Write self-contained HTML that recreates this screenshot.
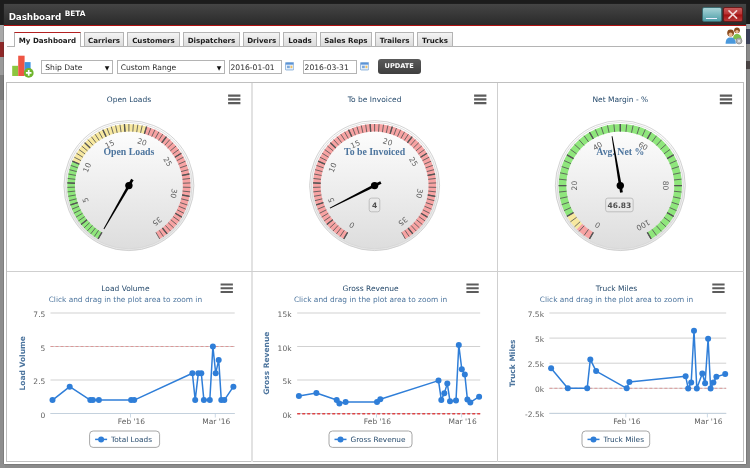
<!DOCTYPE html>
<html><head><meta charset="utf-8"><title>Dashboard</title>
<style>
html,body{margin:0;padding:0}
body{width:750px;height:468px;overflow:hidden;position:relative;background:#8a8a8a;font-family:"DejaVu Sans","Liberation Sans",sans-serif}
.bgtop{position:absolute;left:0;top:0;width:750px;height:30px;background:#1c1c1c}
.bgl1{position:absolute;left:0;top:25px;width:5px;height:17px;background:#a8a8a8}
.bgl2{position:absolute;left:0;top:41.5px;width:5px;height:15.5px;background:#8e2828}
.bgl3{position:absolute;left:0;top:57px;width:5px;height:411px;background:linear-gradient(#9a9a9a 0,#9a9a9a 18px,#7d7d7d 18px,#7d7d7d 43px,#8e8e8e 43px)}
.bgr{position:absolute;left:745px;top:24px;width:5px;height:444px;background:linear-gradient(#9aa2a8 0,#9aa2a8 5px,#3a4058 5px,#3a4058 20px,#8a8a8a 20px,#8a8a8a 37px,#4a4444 37px,#4a4444 45px,#8a8a8a 45px)}
.win{position:absolute;left:3.5px;top:3.5px;width:742.2px;height:460.5px;background:#fff;box-shadow:0 0 1px #333}
.tbar{position:absolute;left:0;top:0;width:100%;height:21px;background:linear-gradient(#454545,#2a2a2a);border-bottom:1.3px solid #b01010}
.ttl{position:absolute;left:5.2px;top:8.6px;color:#fff;font:bold 8.8px "DejaVu Sans","Liberation Sans",sans-serif;letter-spacing:-0.12px;white-space:nowrap;text-shadow:0 0 1px #000}
.ttl sup{font-size:7.4px;position:relative;top:0;left:3.4px;vertical-align:3.7px;line-height:0;letter-spacing:0}
.btn{position:absolute;top:3.8px;height:13px;border-radius:2px}
.bmin{left:698.2px;width:18px;background:linear-gradient(#a9d4d8,#4f9fa8);border:0.5px solid #3c6b70}
.bmin:after{content:"";position:absolute;left:3.8px;top:9.4px;width:10.6px;height:1.5px;background:#eef}
.bcls{left:719.4px;width:18px;background:linear-gradient(#c85a5a 0%,#b83030 48%,#a01010 52%,#b83a3a 100%);border:0.5px solid #6a1a1a}
.tabline{position:absolute;left:3px;top:42.4px;width:737px;height:0.9px;background:#b4b4b4}
.tab{position:absolute;top:28.9px;height:13.6px;box-sizing:border-box;border:0.8px solid #b4b4b4;border-bottom:none;background:linear-gradient(#f4f4f4,#dcdcdc);font:bold 7.1px "DejaVu Sans","Liberation Sans",sans-serif;color:#1a1a1a;text-align:center;line-height:15px;white-space:nowrap}
.tab.act{top:28.2px;height:15.2px;background:#fff;border:0.8px solid #b4b4b4;border-top:1.6px solid #b32020;border-bottom:none;line-height:15.4px}
.sel{position:absolute;top:56.7px;height:13.4px;box-sizing:border-box;border:0.8px solid #b4b4b4;background:#fff;font:7.6px "DejaVu Sans","Liberation Sans",sans-serif;color:#2a2a2a;line-height:13.2px;padding-left:3px;white-space:nowrap}
.sel i{position:absolute;right:3px;top:0;font-style:normal;font-size:6px;color:#111}
.upd{position:absolute;left:374.2px;top:55.8px;width:43px;height:14.8px;border-radius:3px;background:linear-gradient(#5a5a5a,#3f3f3f);color:#fff;font:bold 6.6px "DejaVu Sans","Liberation Sans",sans-serif;text-align:center;line-height:14.8px}
.panels{position:absolute;left:2.4px;top:78.2px;width:738.2px;height:380.2px;border:0.9px solid #c0c0c0;box-sizing:border-box}
.vd1{position:absolute;left:247.6px;top:79px;width:1.8px;height:379px;background:#e2e2e2}
.vd2{position:absolute;left:493.6px;top:79px;width:1px;height:379px;background:#cfcfcf}
.hd{position:absolute;left:3px;top:267.3px;width:737px;height:0.9px;background:#cfcfcf}
svg{position:absolute;left:0;top:0}
svg text{font-family:"DejaVu Sans","Liberation Sans",sans-serif}
.ct{font-size:7.5px;fill:#274b6d}
.cs{font-size:7.4px;fill:#4d759e}
.al{font-size:7.5px;fill:#606060}
.yt{font-size:7.5px;font-weight:bold;fill:#4d759e}
.lg{font-size:7.35px;fill:#274b6d}
.gl{font-size:7.5px;fill:#606060}
.gt{font-family:"Liberation Serif",serif !important;font-weight:bold;font-size:9.8px;fill:#4d759e}
.dl{font-size:7.5px;font-weight:bold;fill:#505050}
</style></head><body>
<div class="bgtop"></div><div class="bgl1"></div><div class="bgl2"></div><div class="bgl3"></div><div class="bgr"></div>
<div class="win">
<div class="tbar"><div class="ttl">Dashboard<sup>BETA</sup></div>
<div class="btn bmin"></div><div class="btn bcls"><svg width="19" height="14" viewBox="0 0 19 14" style="position:absolute;left:0;top:0"><path d="M5 2.9L12.6 10.2M12.6 2.9L5 10.2" stroke="#f0d4d4" stroke-width="1.6" stroke-linecap="round"/></svg></div></div>
<div class="tabline"></div>
<div class="tab act" style="left:10.5px;width:67px">My Dashboard</div><div class="tab" style="left:80.5px;width:40px">Carriers</div><div class="tab" style="left:123.5px;width:53px">Customers</div><div class="tab" style="left:179.5px;width:57px">Dispatchers</div><div class="tab" style="left:239.8px;width:36.7px">Drivers</div><div class="tab" style="left:279.8px;width:33.4px">Loads</div><div class="tab" style="left:316.5px;width:51.7px">Sales Reps</div><div class="tab" style="left:371.5px;width:39px">Trailers</div><div class="tab" style="left:413.8px;width:35.4px">Trucks</div>
<svg width="20" height="20" viewBox="0 0 20 20" style="left:721px;top:23.8px"><circle cx="12" cy="3.3" r="2.9" fill="#8a4a1c"/><circle cx="12" cy="4.6" r="1.7" fill="#e8b890"/><path d="M8 12.5C8 8.5 9.5 7 12 7S16.5 8.5 16.5 12.5Z" fill="#7cc04a"/><circle cx="5.6" cy="6" r="3.4" fill="#8a4a1c"/><circle cx="5.6" cy="7.6" r="2" fill="#e8b890"/><path d="M0.6 16.8C0.6 12.4 2.4 10.6 5.6 10.6S10.8 12.4 10.8 16.8Z" fill="#4a98dc"/><circle cx="14" cy="14" r="3" fill="#b8b8b8" stroke="#8a8a8a" stroke-width="0.8"/><circle cx="14" cy="14" r="1" fill="#eee"/></svg>
<svg width="26" height="24" viewBox="0 0 26 24" style="left:7px;top:51px"><rect x="1.2" y="10.8" width="5.8" height="10.2" fill="#8cc63f"/><rect x="7.2" y="0.7" width="6.4" height="20.3" fill="#ee5544"/><rect x="13.6" y="7.1" width="6" height="9" fill="#3d95e0"/><circle cx="17.7" cy="17.9" r="4.9" fill="#6fb52c"/><path d="M14.9 17.9h5.6M17.7 15.1v5.6" stroke="#fff" stroke-width="1.7"/></svg>
<div class="sel" style="left:37.8px;width:72px">Ship Date<i>&#9660;</i></div>
<div class="sel" style="left:113.2px;width:108.6px">Custom Range<i>&#9660;</i></div>
<div class="sel" style="left:225.2px;width:53.6px;padding-left:0.8px">2016-01-01</div>
<div class="sel" style="left:299.2px;width:54.6px;padding-left:0.9px">2016-03-31</div>
<svg width="9.2" height="8.4" viewBox="0 0 10 9" style="left:281.6px;top:58.7px"><rect x="0.4" y="0.4" width="9.2" height="8.2" rx="1" fill="#e8f1fb" stroke="#6a9bd0" stroke-width="0.8"/><rect x="0.8" y="0.8" width="8.4" height="2" fill="#5a93d6"/><rect x="2.2" y="4" width="3" height="2.6" fill="#7aa8dc"/><rect x="6" y="4" width="2" height="2.6" fill="#f0c060"/></svg>
<svg width="9.2" height="8.4" viewBox="0 0 10 9" style="left:356.4px;top:58.7px"><rect x="0.4" y="0.4" width="9.2" height="8.2" rx="1" fill="#e8f1fb" stroke="#6a9bd0" stroke-width="0.8"/><rect x="0.8" y="0.8" width="8.4" height="2" fill="#5a93d6"/><rect x="2.2" y="4" width="3" height="2.6" fill="#7aa8dc"/><rect x="6" y="4" width="2" height="2.6" fill="#f0c060"/></svg>
<div class="upd">UPDATE</div>
<div class="panels"></div><div class="vd1"></div><div class="vd2"></div><div class="hd"></div>
</div>
<svg width="750" height="468" viewBox="0 0 750 468">
<defs>
<linearGradient id="facegrad" x1="0" y1="0" x2="0" y2="1"><stop offset="0" stop-color="#ffffff"/><stop offset="1" stop-color="#dddddd"/></linearGradient>
<linearGradient id="ringgrad" x1="0" y1="0" x2="0" y2="1"><stop offset="0" stop-color="#ffffff"/><stop offset="1" stop-color="#e6e6e6"/></linearGradient>
</defs>
<text x="128.9" y="102" text-anchor="middle" class="ct">Open Loads</text>
<text x="374.6" y="102" text-anchor="middle" class="ct">To be Invoiced</text>
<text x="620.3" y="102" text-anchor="middle" class="ct">Net Margin - %</text>
<circle cx="128.9" cy="185.6" r="65" fill="url(#ringgrad)" stroke="#c9c9c9" stroke-width="0.8"/>
<circle cx="128.9" cy="185.6" r="63.2" fill="url(#facegrad)" stroke="#d4d4d4" stroke-width="0.7"/>
<path d="M98.1 238.95A61.6 61.6 0 0 1 72.34 161.2L79.32 164.21A54 54 0 0 0 101.9 232.37Z" fill="#8fe67c"/>
<path d="M72.34 161.2A61.6 61.6 0 0 1 146.57 126.59L144.39 133.87A54 54 0 0 0 79.32 164.21Z" fill="#f7e8a0"/>
<path d="M146.57 126.59A61.6 61.6 0 0 1 159.7 238.95L155.9 232.37A54 54 0 0 0 144.39 133.87Z" fill="#f7a3a3"/>
<path d="M98.1 238.95L101.9 232.37M94.31 236.57L98.57 230.28M90.69 233.92L95.41 227.96M87.28 231.02L92.42 225.41M84.09 227.87L89.62 222.66M81.14 224.51L87.03 219.71M78.44 220.93L84.67 216.57M76.01 217.17L82.53 213.28M73.85 213.25L80.64 209.84M71.99 209.17L79.01 206.26M70.43 204.98L77.64 202.59M69.17 200.68L76.54 198.82M68.24 196.3L75.72 194.98M67.62 191.86L75.18 191.09M67.33 187.39L74.92 187.17M67.36 182.91L74.95 183.24M67.72 178.45L75.27 179.33M68.4 174.02L75.86 175.45M69.4 169.66L76.74 171.62M70.71 165.38L77.89 167.87M72.34 161.2L79.32 164.21M74.26 157.16L81 160.67M76.47 153.26L82.94 157.25M78.96 149.54L85.12 153.99M81.71 146L87.53 150.89M84.71 142.68L90.16 147.98M87.95 139.58L93 145.26M91.4 136.73L96.03 142.76M95.05 134.13L99.23 140.48M98.88 131.81L102.58 138.45M102.87 129.77L106.08 136.66M106.99 128.03L109.69 135.13M111.23 126.59L113.41 133.87M115.57 125.46L117.21 132.88M119.97 124.65L121.07 132.17M124.42 124.16L124.98 131.74M128.9 124L128.9 131.6M133.38 124.16L132.82 131.74M137.83 124.65L136.73 132.17M142.23 125.46L140.59 132.88M146.57 126.59L144.39 133.87M150.81 128.03L148.11 135.13M154.93 129.77L151.72 136.66M158.92 131.81L155.22 138.45M162.75 134.13L158.57 140.48M166.4 136.73L161.77 142.76M169.85 139.58L164.8 145.26M173.09 142.68L167.64 147.98M176.09 146L170.27 150.89M178.84 149.54L172.68 153.99M181.33 153.26L174.86 157.25M183.54 157.16L176.8 160.67M185.46 161.2L178.48 164.21M187.09 165.38L179.91 167.87M188.4 169.66L181.06 171.62M189.4 174.02L181.94 175.45M190.08 178.45L182.53 179.33M190.44 182.91L182.85 183.24M190.47 187.39L182.88 187.17M190.18 191.86L182.62 191.09M189.56 196.3L182.08 194.98M188.63 200.68L181.26 198.82M187.37 204.98L180.16 202.59M185.81 209.17L178.79 206.26M183.95 213.25L177.16 209.84M181.79 217.17L175.27 213.28M179.36 220.93L173.13 216.57M176.66 224.51L170.77 219.71M173.71 227.87L168.18 222.66M170.52 231.02L165.38 225.41M167.11 233.92L162.39 227.96M163.49 236.57L159.23 230.28M159.7 238.95L155.9 232.37" stroke="#555" stroke-width="0.85" fill="none"/>
<path d="M98.1 238.95L101.9 232.37M81.14 224.51L87.03 219.71M70.43 204.98L77.64 202.59M67.36 182.91L74.95 183.24M72.34 161.2L79.32 164.21M84.71 142.68L90.16 147.98M102.87 129.77L106.08 136.66M124.42 124.16L124.98 131.74M146.57 126.59L144.39 133.87M166.4 136.73L161.77 142.76M181.33 153.26L174.86 157.25M189.4 174.02L181.94 175.45M189.56 196.3L182.08 194.98M181.79 217.17L175.27 213.28M167.11 233.92L162.39 227.96" stroke="#555" stroke-width="1.35" fill="none"/>
<text x="85.52" y="199.97" transform="rotate(-108.33 85.52 199.97)" text-anchor="middle" dy="2.7" class="gl">5</text>
<text x="86.94" y="167.5" transform="rotate(-66.67 86.94 167.5)" text-anchor="middle" dy="2.7" class="gl">10</text>
<text x="109.59" y="144.18" transform="rotate(-25 109.59 144.18)" text-anchor="middle" dy="2.7" class="gl">15</text>
<text x="142.01" y="141.82" transform="rotate(16.67 142.01 141.82)" text-anchor="middle" dy="2.7" class="gl">20</text>
<text x="167.8" y="161.61" transform="rotate(58.33 167.8 161.61)" text-anchor="middle" dy="2.7" class="gl">25</text>
<text x="173.91" y="193.54" transform="rotate(100 173.91 193.54)" text-anchor="middle" dy="2.7" class="gl">30</text>
<text x="157.24" y="221.45" transform="rotate(141.67 157.24 221.45)" text-anchor="middle" dy="2.7" class="gl">35</text>
<text x="128.9" y="155.4" text-anchor="middle" class="gt">Open Loads</text>
<g transform="translate(128.9 185.6) rotate(-150)"><path d="M-1.4 7L-1.4 0L-0.45 -50L0.45 -50L1.4 0L1.4 7Z" fill="#000"/></g>
<circle cx="128.9" cy="185.6" r="3.7" fill="#000"/>
<circle cx="374.6" cy="185.6" r="65" fill="url(#ringgrad)" stroke="#c9c9c9" stroke-width="0.8"/>
<circle cx="374.6" cy="185.6" r="63.2" fill="url(#facegrad)" stroke="#d4d4d4" stroke-width="0.7"/>
<path d="M343.8 238.95A61.6 61.6 0 1 1 405.4 238.95L401.6 232.37A54 54 0 1 0 347.6 232.37Z" fill="#f7a3a3"/>
<path d="M343.8 238.95L347.6 232.37M340.01 236.57L344.27 230.28M336.39 233.92L341.11 227.96M332.98 231.02L338.12 225.41M329.79 227.87L335.32 222.66M326.84 224.51L332.73 219.71M324.14 220.93L330.37 216.57M321.71 217.17L328.23 213.28M319.55 213.25L326.34 209.84M317.69 209.17L324.71 206.26M316.13 204.98L323.34 202.59M314.87 200.68L322.24 198.82M313.94 196.3L321.42 194.98M313.32 191.86L320.88 191.09M313.03 187.39L320.62 187.17M313.06 182.91L320.65 183.24M313.42 178.45L320.97 179.33M314.1 174.02L321.56 175.45M315.1 169.66L322.44 171.62M316.41 165.38L323.59 167.87M318.04 161.2L325.02 164.21M319.96 157.16L326.7 160.67M322.17 153.26L328.64 157.25M324.66 149.54L330.82 153.99M327.41 146L333.23 150.89M330.41 142.68L335.86 147.98M333.65 139.58L338.7 145.26M337.1 136.73L341.73 142.76M340.75 134.13L344.93 140.48M344.58 131.81L348.28 138.45M348.57 129.77L351.78 136.66M352.69 128.03L355.39 135.13M356.93 126.59L359.11 133.87M361.27 125.46L362.91 132.88M365.67 124.65L366.77 132.17M370.12 124.16L370.68 131.74M374.6 124L374.6 131.6M379.08 124.16L378.52 131.74M383.53 124.65L382.43 132.17M387.93 125.46L386.29 132.88M392.27 126.59L390.09 133.87M396.51 128.03L393.81 135.13M400.63 129.77L397.42 136.66M404.62 131.81L400.92 138.45M408.45 134.13L404.27 140.48M412.1 136.73L407.47 142.76M415.55 139.58L410.5 145.26M418.79 142.68L413.34 147.98M421.79 146L415.97 150.89M424.54 149.54L418.38 153.99M427.03 153.26L420.56 157.25M429.24 157.16L422.5 160.67M431.16 161.2L424.18 164.21M432.79 165.38L425.61 167.87M434.1 169.66L426.76 171.62M435.1 174.02L427.64 175.45M435.78 178.45L428.23 179.33M436.14 182.91L428.55 183.24M436.17 187.39L428.58 187.17M435.88 191.86L428.32 191.09M435.26 196.3L427.78 194.98M434.33 200.68L426.96 198.82M433.07 204.98L425.86 202.59M431.51 209.17L424.49 206.26M429.65 213.25L422.86 209.84M427.49 217.17L420.97 213.28M425.06 220.93L418.83 216.57M422.36 224.51L416.47 219.71M419.41 227.87L413.88 222.66M416.22 231.02L411.08 225.41M412.81 233.92L408.09 227.96M409.19 236.57L404.93 230.28M405.4 238.95L401.6 232.37" stroke="#555" stroke-width="0.85" fill="none"/>
<path d="M343.8 238.95L347.6 232.37M326.84 224.51L332.73 219.71M316.13 204.98L323.34 202.59M313.06 182.91L320.65 183.24M318.04 161.2L325.02 164.21M330.41 142.68L335.86 147.98M348.57 129.77L351.78 136.66M370.12 124.16L370.68 131.74M392.27 126.59L390.09 133.87M412.1 136.73L407.47 142.76M427.03 153.26L420.56 157.25M435.1 174.02L427.64 175.45M435.26 196.3L427.78 194.98M427.49 217.17L420.97 213.28M412.81 233.92L408.09 227.96" stroke="#555" stroke-width="1.35" fill="none"/>
<text x="351.75" y="225.18" transform="rotate(-150 351.75 225.18)" text-anchor="middle" dy="2.7" class="gl">0</text>
<text x="331.22" y="199.97" transform="rotate(-108.33 331.22 199.97)" text-anchor="middle" dy="2.7" class="gl">5</text>
<text x="332.64" y="167.5" transform="rotate(-66.67 332.64 167.5)" text-anchor="middle" dy="2.7" class="gl">10</text>
<text x="355.29" y="144.18" transform="rotate(-25 355.29 144.18)" text-anchor="middle" dy="2.7" class="gl">15</text>
<text x="387.71" y="141.82" transform="rotate(16.67 387.71 141.82)" text-anchor="middle" dy="2.7" class="gl">20</text>
<text x="413.5" y="161.61" transform="rotate(58.33 413.5 161.61)" text-anchor="middle" dy="2.7" class="gl">25</text>
<text x="419.61" y="193.54" transform="rotate(100 419.61 193.54)" text-anchor="middle" dy="2.7" class="gl">30</text>
<text x="402.94" y="221.45" transform="rotate(141.67 402.94 221.45)" text-anchor="middle" dy="2.7" class="gl">35</text>
<text x="374.6" y="155.4" text-anchor="middle" class="gt">To be Invoiced</text>
<rect x="369.2" y="198.1" width="10.6" height="13.7" rx="2.2" fill="none" stroke="#b4b4b4" stroke-width="0.8"/>
<text x="374.5" y="207.9" text-anchor="middle" class="dl">4</text>
<g transform="translate(374.6 185.6) rotate(-116.67)"><path d="M-1.4 7L-1.4 0L-0.45 -50L0.45 -50L1.4 0L1.4 7Z" fill="#000"/></g>
<circle cx="374.6" cy="185.6" r="3.7" fill="#000"/>
<circle cx="620.3" cy="185.6" r="65" fill="url(#ringgrad)" stroke="#c9c9c9" stroke-width="0.8"/>
<circle cx="620.3" cy="185.6" r="63.2" fill="url(#facegrad)" stroke="#d4d4d4" stroke-width="0.7"/>
<path d="M589.5 238.95A61.6 61.6 0 0 1 576.74 229.16L582.12 223.78A54 54 0 0 0 593.3 232.37Z" fill="#f7a3a3"/>
<path d="M576.74 229.16A61.6 61.6 0 0 1 566.95 216.4L573.53 212.6A54 54 0 0 0 582.12 223.78Z" fill="#f7e8a0"/>
<path d="M566.95 216.4A61.6 61.6 0 1 1 651.1 238.95L647.3 232.37A54 54 0 1 0 573.53 212.6Z" fill="#8fe67c"/>
<path d="M589.5 238.95L593.3 232.37M584.09 235.44L588.56 229.29M579.08 231.38L584.17 225.73M574.52 226.82L580.17 221.73M570.46 221.81L576.61 217.34M566.95 216.4L573.53 212.6M564.03 210.65L570.97 207.56M561.71 204.64L568.94 202.29M560.05 198.41L567.48 196.83M559.04 192.04L566.6 191.24M558.7 185.6L566.3 185.6M559.04 179.16L566.6 179.96M560.05 172.79L567.48 174.37M561.71 166.56L568.94 168.91M564.03 160.55L570.97 163.64M566.95 154.8L573.53 158.6M570.46 149.39L576.61 153.86M574.52 144.38L580.17 149.47M579.08 139.82L584.17 145.47M584.09 135.76L588.56 141.91M589.5 132.25L593.3 138.83M595.25 129.33L598.34 136.27M601.26 127.01L603.61 134.24M607.49 125.35L609.07 132.78M613.86 124.34L614.66 131.9M620.3 124L620.3 131.6M626.74 124.34L625.94 131.9M633.11 125.35L631.53 132.78M639.34 127.01L636.99 134.24M645.35 129.33L642.26 136.27M651.1 132.25L647.3 138.83M656.51 135.76L652.04 141.91M661.52 139.82L656.43 145.47M666.08 144.38L660.43 149.47M670.14 149.39L663.99 153.86M673.65 154.8L667.07 158.6M676.57 160.55L669.63 163.64M678.89 166.56L671.66 168.91M680.55 172.79L673.12 174.37M681.56 179.16L674 179.96M681.9 185.6L674.3 185.6M681.56 192.04L674 191.24M680.55 198.41L673.12 196.83M678.89 204.64L671.66 202.29M676.57 210.65L669.63 207.56M673.65 216.4L667.07 212.6M670.14 221.81L663.99 217.34M666.08 226.82L660.43 221.73M661.52 231.38L656.43 225.73M656.51 235.44L652.04 229.29M651.1 238.95L647.3 232.37" stroke="#555" stroke-width="0.85" fill="none"/>
<path d="M589.5 238.95L593.3 232.37M566.95 216.4L573.53 212.6M558.7 185.6L566.3 185.6M566.95 154.8L573.53 158.6M589.5 132.25L593.3 138.83M620.3 124L620.3 131.6M651.1 132.25L647.3 138.83M673.65 154.8L667.07 158.6M681.9 185.6L674.3 185.6M673.65 216.4L667.07 212.6M651.1 238.95L647.3 232.37" stroke="#555" stroke-width="1.35" fill="none"/>
<text x="597.45" y="225.18" transform="rotate(-150 597.45 225.18)" text-anchor="middle" dy="2.7" class="gl">0</text>
<text x="574.6" y="185.6" transform="rotate(-90 574.6 185.6)" text-anchor="middle" dy="2.7" class="gl">20</text>
<text x="597.45" y="146.02" transform="rotate(-30 597.45 146.02)" text-anchor="middle" dy="2.7" class="gl">40</text>
<text x="643.15" y="146.02" transform="rotate(30 643.15 146.02)" text-anchor="middle" dy="2.7" class="gl">60</text>
<text x="666" y="185.6" transform="rotate(90 666 185.6)" text-anchor="middle" dy="2.7" class="gl">80</text>
<text x="643.15" y="225.18" transform="rotate(150 643.15 225.18)" text-anchor="middle" dy="2.7" class="gl">100</text>
<text x="620.3" y="155.4" text-anchor="middle" class="gt">Avg. Net %</text>
<rect x="605.65" y="198.1" width="27.5" height="13.7" rx="2.2" fill="none" stroke="#b4b4b4" stroke-width="0.8"/>
<text x="619.4" y="207.9" text-anchor="middle" class="dl">46.83</text>
<g transform="translate(620.3 185.6) rotate(-9.51)"><path d="M-1.4 7L-1.4 0L-0.45 -50L0.45 -50L1.4 0L1.4 7Z" fill="#000"/></g>
<circle cx="620.3" cy="185.6" r="3.7" fill="#000"/>
<path d="M228.1 95.6h12.3M228.1 99.35h12.3M228.1 103.1h12.3" stroke="#5c5c5c" stroke-width="2.1" fill="none"/>
<path d="M474.1 95.6h12.3M474.1 99.35h12.3M474.1 103.1h12.3" stroke="#5c5c5c" stroke-width="2.1" fill="none"/>
<path d="M719.8 95.6h12.3M719.8 99.35h12.3M719.8 103.1h12.3" stroke="#5c5c5c" stroke-width="2.1" fill="none"/>
<path d="M220.6 284.5h12.3M220.6 288.25h12.3M220.6 292h12.3" stroke="#5c5c5c" stroke-width="2.1" fill="none"/>
<path d="M466.4 284.5h12.3M466.4 288.25h12.3M466.4 292h12.3" stroke="#5c5c5c" stroke-width="2.1" fill="none"/>
<path d="M712.3 284.5h12.3M712.3 288.25h12.3M712.3 292h12.3" stroke="#5c5c5c" stroke-width="2.1" fill="none"/>
<text x="125.4" y="290.6" text-anchor="middle" class="ct">Load Volume</text>
<text x="125.4" y="301.8" text-anchor="middle" class="cs">Click and drag in the plot area to zoom in</text>
<path d="M50.5 313H234.7" stroke="#c2c2c2" stroke-width="0.75"/>
<path d="M50.5 346.5H234.7" stroke="#c2c2c2" stroke-width="0.75"/>
<path d="M50.5 380H234.7" stroke="#c2c2c2" stroke-width="0.75"/>
<path d="M50.5 413.5H234.7" stroke="#c2c2c2" stroke-width="0.75"/>
<path d="M50.5 413.5H234.7" stroke="#c0d0e0" stroke-width="0.8"/>
<path d="M130.5 413.5v4" stroke="#c0d0e0" stroke-width="0.8"/>
<path d="M215.3 413.5v4" stroke="#c0d0e0" stroke-width="0.8"/>
<path d="M50.5 346.5H234.7" stroke="#d88" stroke-width="0.8" stroke-dasharray="3 2"/>
<text x="45.3" y="317" text-anchor="end" class="al">7.5</text>
<text x="45.3" y="350.5" text-anchor="end" class="al">5</text>
<text x="45.3" y="384" text-anchor="end" class="al">2.5</text>
<text x="45.3" y="417.5" text-anchor="end" class="al">0</text>
<text x="131.5" y="424.3" text-anchor="middle" class="al">Feb '16</text>
<text x="216.3" y="424.3" text-anchor="middle" class="al">Mar '16</text>
<text x="24.8" y="363.25" transform="rotate(-90 24.8 363.25)" text-anchor="middle" class="yt">Load Volume</text>
<path d="M52.5 400.1L69.7 386.7L90.3 400.1L92.9 400.1L98.9 400.1L131.1 400.1L134.2 400.1L192.4 373.3L195.2 400.1L198.3 373.3L201.3 373.3L203.9 400.1L209.8 400.1L212.9 346.5L215.7 373.3L218.7 359.9L221.3 400.1L224.3 400.1L233.4 386.7" stroke="#2f7ed8" stroke-width="1.5" fill="none" stroke-linejoin="round"/>
<circle cx="52.5" cy="400.1" r="3" fill="#2f7ed8"/>
<circle cx="69.7" cy="386.7" r="3" fill="#2f7ed8"/>
<circle cx="90.3" cy="400.1" r="3" fill="#2f7ed8"/>
<circle cx="92.9" cy="400.1" r="3" fill="#2f7ed8"/>
<circle cx="98.9" cy="400.1" r="3" fill="#2f7ed8"/>
<circle cx="131.1" cy="400.1" r="3" fill="#2f7ed8"/>
<circle cx="134.2" cy="400.1" r="3" fill="#2f7ed8"/>
<circle cx="192.4" cy="373.3" r="3" fill="#2f7ed8"/>
<circle cx="195.2" cy="400.1" r="3" fill="#2f7ed8"/>
<circle cx="198.3" cy="373.3" r="3" fill="#2f7ed8"/>
<circle cx="201.3" cy="373.3" r="3" fill="#2f7ed8"/>
<circle cx="203.9" cy="400.1" r="3" fill="#2f7ed8"/>
<circle cx="209.8" cy="400.1" r="3" fill="#2f7ed8"/>
<circle cx="212.9" cy="346.5" r="3" fill="#2f7ed8"/>
<circle cx="215.7" cy="373.3" r="3" fill="#2f7ed8"/>
<circle cx="218.7" cy="359.9" r="3" fill="#2f7ed8"/>
<circle cx="221.3" cy="400.1" r="3" fill="#2f7ed8"/>
<circle cx="224.3" cy="400.1" r="3" fill="#2f7ed8"/>
<circle cx="233.4" cy="386.7" r="3" fill="#2f7ed8"/>
<rect x="89.6" y="431" width="70" height="16.4" rx="3.5" fill="#fff" stroke="#909090" stroke-width="0.8"/>
<path d="M95.1 439.4H107.1" stroke="#2f7ed8" stroke-width="1.5"/><circle cx="101.1" cy="439.4" r="3" fill="#2f7ed8"/>
<text x="111.1" y="442.2" class="lg">Total Loads</text>
<text x="370.6" y="290.6" text-anchor="middle" class="ct">Gross Revenue</text>
<text x="370.6" y="301.8" text-anchor="middle" class="cs">Click and drag in the plot area to zoom in</text>
<path d="M297.2 313H480.2" stroke="#c2c2c2" stroke-width="0.75"/>
<path d="M297.2 346.5H480.2" stroke="#c2c2c2" stroke-width="0.75"/>
<path d="M297.2 380H480.2" stroke="#c2c2c2" stroke-width="0.75"/>
<path d="M297.2 413.5H480.2" stroke="#c2c2c2" stroke-width="0.75"/>
<path d="M297.2 413.5H480.2" stroke="#c0d0e0" stroke-width="0.8"/>
<path d="M376.5 413.5v4" stroke="#c0d0e0" stroke-width="0.8"/>
<path d="M461.6 413.5v4" stroke="#c0d0e0" stroke-width="0.8"/>
<path d="M297.2 413.7H480.2" stroke="#d44" stroke-width="1.6" stroke-dasharray="3 2"/>
<text x="291.5" y="317" text-anchor="end" class="al">15k</text>
<text x="291.5" y="350.5" text-anchor="end" class="al">10k</text>
<text x="291.5" y="384" text-anchor="end" class="al">5k</text>
<text x="291.5" y="417.5" text-anchor="end" class="al">0k</text>
<text x="377.5" y="424.3" text-anchor="middle" class="al">Feb '16</text>
<text x="462.6" y="424.3" text-anchor="middle" class="al">Mar '16</text>
<text x="268.5" y="363.25" transform="rotate(-90 268.5 363.25)" text-anchor="middle" class="yt">Gross Revenue</text>
<path d="M298.9 396.1L316.4 393L336.7 400L339.4 403.6L345.6 402L377 402L380.3 399.2L438.5 380.6L441.3 399.9L444.3 393.2L447.3 383.6L450 401.2L456 400.5L458.8 345L461.8 369.3L464.8 374.4L467.4 399.4L470.3 402.4L479.1 396.7" stroke="#2f7ed8" stroke-width="1.5" fill="none" stroke-linejoin="round"/>
<circle cx="298.9" cy="396.1" r="3" fill="#2f7ed8"/>
<circle cx="316.4" cy="393" r="3" fill="#2f7ed8"/>
<circle cx="336.7" cy="400" r="3" fill="#2f7ed8"/>
<circle cx="339.4" cy="403.6" r="3" fill="#2f7ed8"/>
<circle cx="345.6" cy="402" r="3" fill="#2f7ed8"/>
<circle cx="377" cy="402" r="3" fill="#2f7ed8"/>
<circle cx="380.3" cy="399.2" r="3" fill="#2f7ed8"/>
<circle cx="438.5" cy="380.6" r="3" fill="#2f7ed8"/>
<circle cx="441.3" cy="399.9" r="3" fill="#2f7ed8"/>
<circle cx="444.3" cy="393.2" r="3" fill="#2f7ed8"/>
<circle cx="447.3" cy="383.6" r="3" fill="#2f7ed8"/>
<circle cx="450" cy="401.2" r="3" fill="#2f7ed8"/>
<circle cx="456" cy="400.5" r="3" fill="#2f7ed8"/>
<circle cx="458.8" cy="345" r="3" fill="#2f7ed8"/>
<circle cx="461.8" cy="369.3" r="3" fill="#2f7ed8"/>
<circle cx="464.8" cy="374.4" r="3" fill="#2f7ed8"/>
<circle cx="467.4" cy="399.4" r="3" fill="#2f7ed8"/>
<circle cx="470.3" cy="402.4" r="3" fill="#2f7ed8"/>
<circle cx="479.1" cy="396.7" r="3" fill="#2f7ed8"/>
<rect x="329" y="431" width="83" height="16.4" rx="3.5" fill="#fff" stroke="#909090" stroke-width="0.8"/>
<path d="M334.5 439.4H346.5" stroke="#2f7ed8" stroke-width="1.5"/><circle cx="340.5" cy="439.4" r="3" fill="#2f7ed8"/>
<text x="350.5" y="442.2" class="lg">Gross Revenue</text>
<text x="616.5" y="290.6" text-anchor="middle" class="ct">Truck Miles</text>
<text x="616.5" y="301.8" text-anchor="middle" class="cs">Click and drag in the plot area to zoom in</text>
<path d="M549.4 313H726.2" stroke="#c2c2c2" stroke-width="0.75"/>
<path d="M549.4 338.1H726.2" stroke="#c2c2c2" stroke-width="0.75"/>
<path d="M549.4 363.2H726.2" stroke="#c2c2c2" stroke-width="0.75"/>
<path d="M549.4 388.3H726.2" stroke="#c2c2c2" stroke-width="0.75"/>
<path d="M549.4 413.4H726.2" stroke="#c2c2c2" stroke-width="0.75"/>
<path d="M549.4 413.4H726.2" stroke="#c0d0e0" stroke-width="0.8"/>
<path d="M625.8 413.4v4" stroke="#c0d0e0" stroke-width="0.8"/>
<path d="M707.4 413.4v4" stroke="#c0d0e0" stroke-width="0.8"/>
<path d="M549.4 388.3H726.2" stroke="#d88" stroke-width="0.8" stroke-dasharray="3 2"/>
<text x="544" y="317" text-anchor="end" class="al">7.5k</text>
<text x="544" y="342.1" text-anchor="end" class="al">5k</text>
<text x="544" y="367.2" text-anchor="end" class="al">2.5k</text>
<text x="544" y="392.3" text-anchor="end" class="al">0k</text>
<text x="544" y="417.4" text-anchor="end" class="al">-2.5k</text>
<text x="626.8" y="424.3" text-anchor="middle" class="al">Feb '16</text>
<text x="708.4" y="424.3" text-anchor="middle" class="al">Mar '16</text>
<text x="515" y="363.2" transform="rotate(-90 515 363.2)" text-anchor="middle" class="yt">Truck Miles</text>
<path d="M551.1 368.3L567.8 388.3L587.2 388.3L590.3 359.4L596.1 371.1L626.7 388.3L629.4 382L685.6 376.2L688.2 388.4L691.2 382.6L694 330.7L696.8 388.4L702.3 373.5L705.1 383.3L708.1 338.8L710.6 388.4L713.4 382.6L716.4 376.7L725.2 374.1" stroke="#2f7ed8" stroke-width="1.5" fill="none" stroke-linejoin="round"/>
<circle cx="551.1" cy="368.3" r="3" fill="#2f7ed8"/>
<circle cx="567.8" cy="388.3" r="3" fill="#2f7ed8"/>
<circle cx="587.2" cy="388.3" r="3" fill="#2f7ed8"/>
<circle cx="590.3" cy="359.4" r="3" fill="#2f7ed8"/>
<circle cx="596.1" cy="371.1" r="3" fill="#2f7ed8"/>
<circle cx="626.7" cy="388.3" r="3" fill="#2f7ed8"/>
<circle cx="629.4" cy="382" r="3" fill="#2f7ed8"/>
<circle cx="685.6" cy="376.2" r="3" fill="#2f7ed8"/>
<circle cx="688.2" cy="388.4" r="3" fill="#2f7ed8"/>
<circle cx="691.2" cy="382.6" r="3" fill="#2f7ed8"/>
<circle cx="694" cy="330.7" r="3" fill="#2f7ed8"/>
<circle cx="696.8" cy="388.4" r="3" fill="#2f7ed8"/>
<circle cx="702.3" cy="373.5" r="3" fill="#2f7ed8"/>
<circle cx="705.1" cy="383.3" r="3" fill="#2f7ed8"/>
<circle cx="708.1" cy="338.8" r="3" fill="#2f7ed8"/>
<circle cx="710.6" cy="388.4" r="3" fill="#2f7ed8"/>
<circle cx="713.4" cy="382.6" r="3" fill="#2f7ed8"/>
<circle cx="716.4" cy="376.7" r="3" fill="#2f7ed8"/>
<circle cx="725.2" cy="374.1" r="3" fill="#2f7ed8"/>
<rect x="582" y="431" width="67.7" height="16.4" rx="3.5" fill="#fff" stroke="#909090" stroke-width="0.8"/>
<path d="M587.5 439.4H599.5" stroke="#2f7ed8" stroke-width="1.5"/><circle cx="593.5" cy="439.4" r="3" fill="#2f7ed8"/>
<text x="603.5" y="442.2" class="lg">Truck Miles</text>
</svg>
</body></html>
